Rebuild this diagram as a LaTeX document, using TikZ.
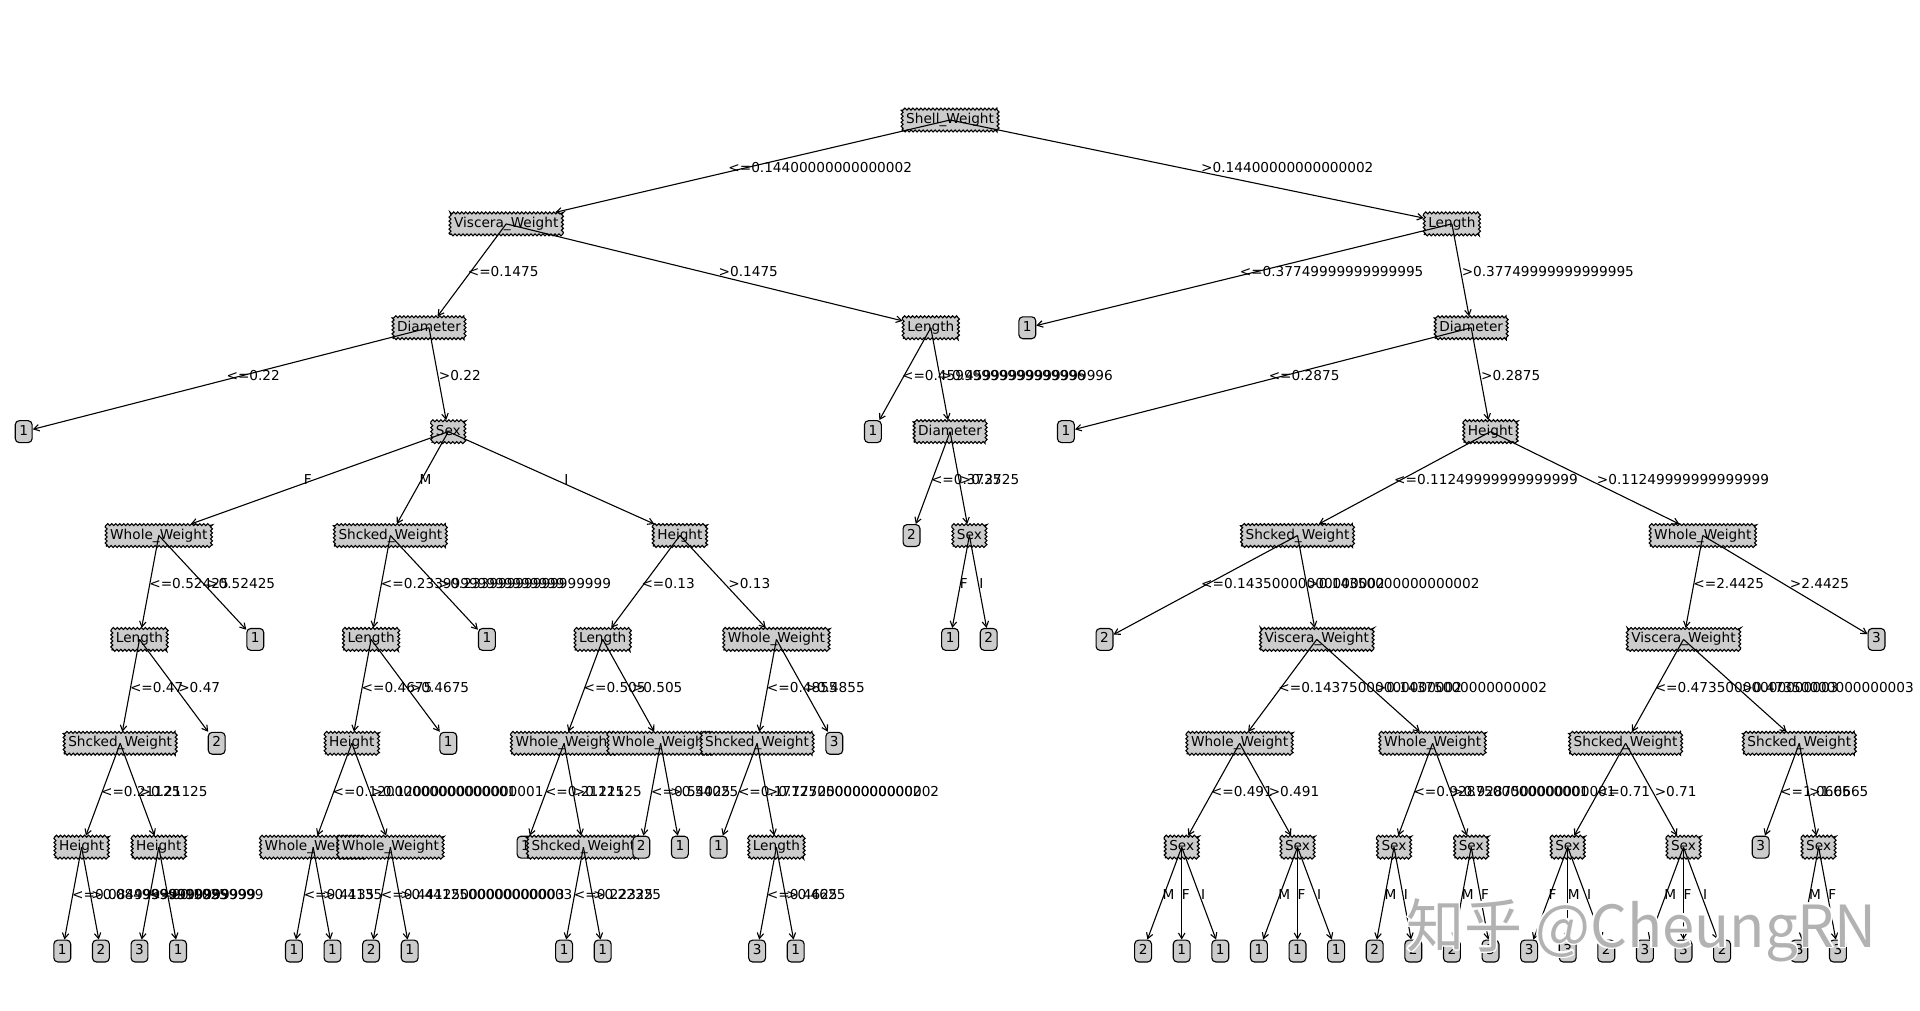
\documentclass[tikz,border=0pt]{standalone}
\usepackage{fontspec}
\setmainfont{DejaVu Sans}
\newfontfamily\cjkwm{Noto Sans CJK SC}
\usetikzlibrary{arrows.meta,decorations.pathmorphing}
\definecolor{boxgray}{gray}{0.8}
\definecolor{wmgray}{gray}{0.7}
\newcommand\tbranch[3]{\draw[edgearr] (#1.center) -- (#2); \path (#1.center) -- (#2.center) node[lbl,pos=0.5]{#3};}
\begin{document}
\begin{tikzpicture}[
  every node/.style={font=\fontsize{13.66}{16}\selectfont},
  dnode/.style={draw, fill=boxgray, line width=1.1pt, decorate, decoration={zigzag, segment length=4pt, amplitude=1pt}, inner xsep=4.1pt, inner ysep=4.1pt, text height=10.4pt, text depth=3.3pt},
  lnode/.style={draw, fill=boxgray, line width=1.1pt, rounded corners=4pt, inner xsep=4.1pt, inner ysep=4.1pt, text height=10.4pt, text depth=3.3pt},
  edgearr/.style={line width=1.1pt, -{Straight Barb[length=5.5pt,width=6.5pt,line width=1.1pt]}},
  lbl/.style={anchor=base west, inner sep=0pt, yshift=-0.8pt},
  wm/.style={anchor=base west, inner sep=0pt, font=\cjkwm\fontsize{58}{62}\selectfont},
]
\useasboundingbox (0,0) rectangle (1920pt,-1011pt);
\begin{scope}[shift={(4.4pt,-120pt)}, x=38.6pt, y=-103.88pt]
% level 0
\node[dnode] (n0) at (24.5,0) {Shell\_Weight};
% level 1
\node[dnode] (a) at (13,1) {Viscera\_Weight};
\node[dnode] (b) at (37.5,1) {Length};
% level 2
\node[dnode] (aa) at (11,2) {Diameter};
\node[dnode] (ab) at (24,2) {Length};
\node[lnode] (ba) at (26.5,2) {1};
\node[dnode] (bb) at (38,2) {Diameter};
% level 3
\node[lnode] (aaa) at (0.5,3) {1};
\node[dnode] (aab) at (11.5,3) {Sex};
\node[lnode] (aba) at (22.5,3) {1};
\node[dnode] (abb) at (24.5,3) {Diameter};
\node[lnode] (bba) at (27.5,3) {1};
\node[dnode] (bbb) at (38.5,3) {Height};
% level 4
\node[dnode] (F) at (4,4) {Whole\_Weight};
\node[dnode] (M) at (10,4) {Shcked\_Weight};
\node[dnode] (I) at (17.5,4) {Height};
\node[lnode] (abba) at (23.5,4) {2};
\node[dnode] (abbb) at (25,4) {Sex};
\node[dnode] (bbba) at (33.5,4) {Shcked\_Weight};
\node[dnode] (bbbb) at (44,4) {Whole\_Weight};
% level 5
\node[dnode] (Fa) at (3.5,5) {Length};
\node[lnode] (Fb) at (6.5,5) {1};
\node[dnode] (Ma) at (9.5,5) {Length};
\node[lnode] (Mb) at (12.5,5) {1};
\node[dnode] (Ia) at (15.5,5) {Length};
\node[dnode] (Ib) at (20,5) {Whole\_Weight};
\node[lnode] (abbbF) at (24.5,5) {1};
\node[lnode] (abbbI) at (25.5,5) {2};
\node[lnode] (bbbaa) at (28.5,5) {2};
\node[dnode] (bbbab) at (34,5) {Viscera\_Weight};
\node[dnode] (bbbba) at (43.5,5) {Viscera\_Weight};
\node[lnode] (bbbbb) at (48.5,5) {3};
% level 6
\node[dnode] (Faa) at (3,6) {Shcked\_Weight};
\node[lnode] (Fab) at (5.5,6) {2};
\node[dnode] (Maa) at (9,6) {Height};
\node[lnode] (Mab) at (11.5,6) {1};
\node[dnode] (Iaa) at (14.5,6) {Whole\_Weight};
\node[dnode] (Iab) at (17,6) {Whole\_Weight};
\node[dnode] (Iba) at (19.5,6) {Shcked\_Weight};
\node[lnode] (Ibb) at (21.5,6) {3};
\node[dnode] (Va) at (32,6) {Whole\_Weight};
\node[dnode] (Vb) at (37,6) {Whole\_Weight};
\node[dnode] (Wa) at (42,6) {Shcked\_Weight};
\node[dnode] (Wb) at (46.5,6) {Shcked\_Weight};
% level 7
\node[dnode] (Faaa) at (2,7) {Height};
\node[dnode] (Faab) at (4,7) {Height};
\node[dnode] (Maaa) at (8,7) {Whole\_Weight};
\node[dnode] (Maab) at (10,7) {Whole\_Weight};
\node[lnode] (Iaaa) at (13.5,7) {1};
\node[dnode] (Iaab) at (15,7) {Shcked\_Weight};
\node[lnode] (Iaba) at (16.5,7) {2};
\node[lnode] (Iabb) at (17.5,7) {1};
\node[lnode] (Ibaa) at (18.5,7) {1};
\node[dnode] (Ibab) at (20,7) {Length};
\node[dnode] (Vaa) at (30.5,7) {Sex};
\node[dnode] (Vab) at (33.5,7) {Sex};
\node[dnode] (Vba) at (36,7) {Sex};
\node[dnode] (Vbb) at (38,7) {Sex};
\node[dnode] (Waa) at (40.5,7) {Sex};
\node[dnode] (Wab) at (43.5,7) {Sex};
\node[lnode] (Wba) at (45.5,7) {3};
\node[dnode] (Wbb) at (47,7) {Sex};
% level 8
\node[lnode] (q1) at (1.5,8) {1};
\node[lnode] (q2) at (2.5,8) {2};
\node[lnode] (q3) at (3.5,8) {3};
\node[lnode] (q4) at (4.5,8) {1};
\node[lnode] (q5) at (7.5,8) {1};
\node[lnode] (q6) at (8.5,8) {1};
\node[lnode] (q7) at (9.5,8) {2};
\node[lnode] (q8) at (10.5,8) {1};
\node[lnode] (q9) at (14.5,8) {1};
\node[lnode] (q10) at (15.5,8) {1};
\node[lnode] (q11) at (19.5,8) {3};
\node[lnode] (q12) at (20.5,8) {1};
\node[lnode] (q13) at (29.5,8) {2};
\node[lnode] (q14) at (30.5,8) {1};
\node[lnode] (q15) at (31.5,8) {1};
\node[lnode] (q16) at (32.5,8) {1};
\node[lnode] (q17) at (33.5,8) {1};
\node[lnode] (q18) at (34.5,8) {1};
\node[lnode] (q19) at (35.5,8) {2};
\node[lnode] (q20) at (36.5,8) {2};
\node[lnode] (q21) at (37.5,8) {2};
\node[lnode] (q22) at (38.5,8) {3};
\node[lnode] (q23) at (39.5,8) {3};
\node[lnode] (q24) at (40.5,8) {3};
\node[lnode] (q25) at (41.5,8) {2};
\node[lnode] (q26) at (42.5,8) {3};
\node[lnode] (q27) at (43.5,8) {3};
\node[lnode] (q28) at (44.5,8) {2};
\node[lnode] (q29) at (46.5,8) {3};
\node[lnode] (q30) at (47.5,8) {3};
\end{scope}
% branches with labels
\tbranch{n0}{a}{<=0.14400000000000002}
\tbranch{n0}{b}{>0.14400000000000002}
\tbranch{a}{aa}{<=0.1475}
\tbranch{a}{ab}{>0.1475}
\tbranch{aa}{aaa}{<=0.22}
\tbranch{aa}{aab}{>0.22}
\tbranch{aab}{F}{F}
\tbranch{aab}{M}{M}
\tbranch{aab}{I}{I}
\tbranch{F}{Fa}{<=0.52425}
\tbranch{F}{Fb}{>0.52425}
\tbranch{Fa}{Faa}{<=0.47}
\tbranch{Fa}{Fab}{>0.47}
\tbranch{Faa}{Faaa}{<=0.21125}
\tbranch{Faa}{Faab}{>0.21125}
\tbranch{Faaa}{q1}{<=0.08499999999999999}
\tbranch{Faaa}{q2}{>0.08499999999999999}
\tbranch{Faab}{q3}{<=0.1025}
\tbranch{Faab}{q4}{>0.1025}
\tbranch{M}{Ma}{<=0.23399999999999999}
\tbranch{M}{Mb}{>0.23399999999999999}
\tbranch{Ma}{Maa}{<=0.4675}
\tbranch{Ma}{Mab}{>0.4675}
\tbranch{Maa}{Maaa}{<=0.12000000000000001}
\tbranch{Maa}{Maab}{>0.12000000000000001}
\tbranch{Maaa}{q5}{<=0.4135}
\tbranch{Maaa}{q6}{>0.4135}
\tbranch{Maab}{q7}{<=0.44125000000000003}
\tbranch{Maab}{q8}{>0.44125000000000003}
\tbranch{I}{Ia}{<=0.13}
\tbranch{I}{Ib}{>0.13}
\tbranch{Ia}{Iaa}{<=0.505}
\tbranch{Ia}{Iab}{>0.505}
\tbranch{Iaa}{Iaaa}{<=0.21125}
\tbranch{Iaa}{Iaab}{>0.21125}
\tbranch{Iaab}{q9}{<=0.22325}
\tbranch{Iaab}{q10}{>0.22325}
\tbranch{Iab}{Iaba}{<=0.54025}
\tbranch{Iab}{Iabb}{>0.54025}
\tbranch{Ib}{Iba}{<=0.4855}
\tbranch{Ib}{Ibb}{>0.4855}
\tbranch{Iba}{Ibaa}{<=0.17725000000000002}
\tbranch{Iba}{Ibab}{>0.17725000000000002}
\tbranch{Ibab}{q11}{<=0.4625}
\tbranch{Ibab}{q12}{>0.4625}
\tbranch{ab}{aba}{<=0.45999999999999996}
\tbranch{ab}{abb}{>0.45999999999999996}
\tbranch{abb}{abba}{<=0.3725}
\tbranch{abb}{abbb}{>0.3725}
\tbranch{abbb}{abbbF}{F}
\tbranch{abbb}{abbbI}{I}
\tbranch{b}{ba}{<=0.37749999999999995}
\tbranch{b}{bb}{>0.37749999999999995}
\tbranch{bb}{bba}{<=0.2875}
\tbranch{bb}{bbb}{>0.2875}
\tbranch{bbb}{bbba}{<=0.11249999999999999}
\tbranch{bbb}{bbbb}{>0.11249999999999999}
\tbranch{bbba}{bbbaa}{<=0.14350000000000002}
\tbranch{bbba}{bbbab}{>0.14350000000000002}
\tbranch{bbbab}{Va}{<=0.14375000000000002}
\tbranch{bbbab}{Vb}{>0.14375000000000002}
\tbranch{Va}{Vaa}{<=0.491}
\tbranch{Va}{Vab}{>0.491}
\tbranch{Vb}{Vba}{<=0.9287500000000001}
\tbranch{Vb}{Vbb}{>0.9287500000000001}
\tbranch{Vaa}{q13}{M}
\tbranch{Vaa}{q14}{F}
\tbranch{Vaa}{q15}{I}
\tbranch{Vab}{q16}{M}
\tbranch{Vab}{q17}{F}
\tbranch{Vab}{q18}{I}
\tbranch{Vba}{q19}{M}
\tbranch{Vba}{q20}{I}
\tbranch{Vbb}{q21}{M}
\tbranch{Vbb}{q22}{F}
\tbranch{bbbb}{bbbba}{<=2.4425}
\tbranch{bbbb}{bbbbb}{>2.4425}
\tbranch{bbbba}{Wa}{<=0.47350000000000003}
\tbranch{bbbba}{Wb}{>0.47350000000000003}
\tbranch{Wa}{Waa}{<=0.71}
\tbranch{Wa}{Wab}{>0.71}
\tbranch{Wb}{Wba}{<=1.0665}
\tbranch{Wb}{Wbb}{>1.0665}
\tbranch{Waa}{q23}{F}
\tbranch{Waa}{q24}{M}
\tbranch{Waa}{q25}{I}
\tbranch{Wab}{q26}{M}
\tbranch{Wab}{q27}{F}
\tbranch{Wab}{q28}{I}
\tbranch{Wbb}{q29}{M}
\tbranch{Wbb}{q30}{F}
% watermark
\coordinate (wmpos) at (1406pt,-947pt);
\foreach \dx/\dy [count=\k] in {1.6/0,-1.6/0,0/1.6,0/-1.6,1.15/1.15,-1.15/1.15,1.15/-1.15,-1.15/-1.15}
  \node[wm, text=white] (wmhalo\k) at ([xshift=\dx pt, yshift=\dy pt]wmpos) {知乎 @CheungRN};
\node[wm, text=wmgray] (wmtext) at (wmpos) {知乎 @CheungRN};
\end{tikzpicture}
\end{document}
